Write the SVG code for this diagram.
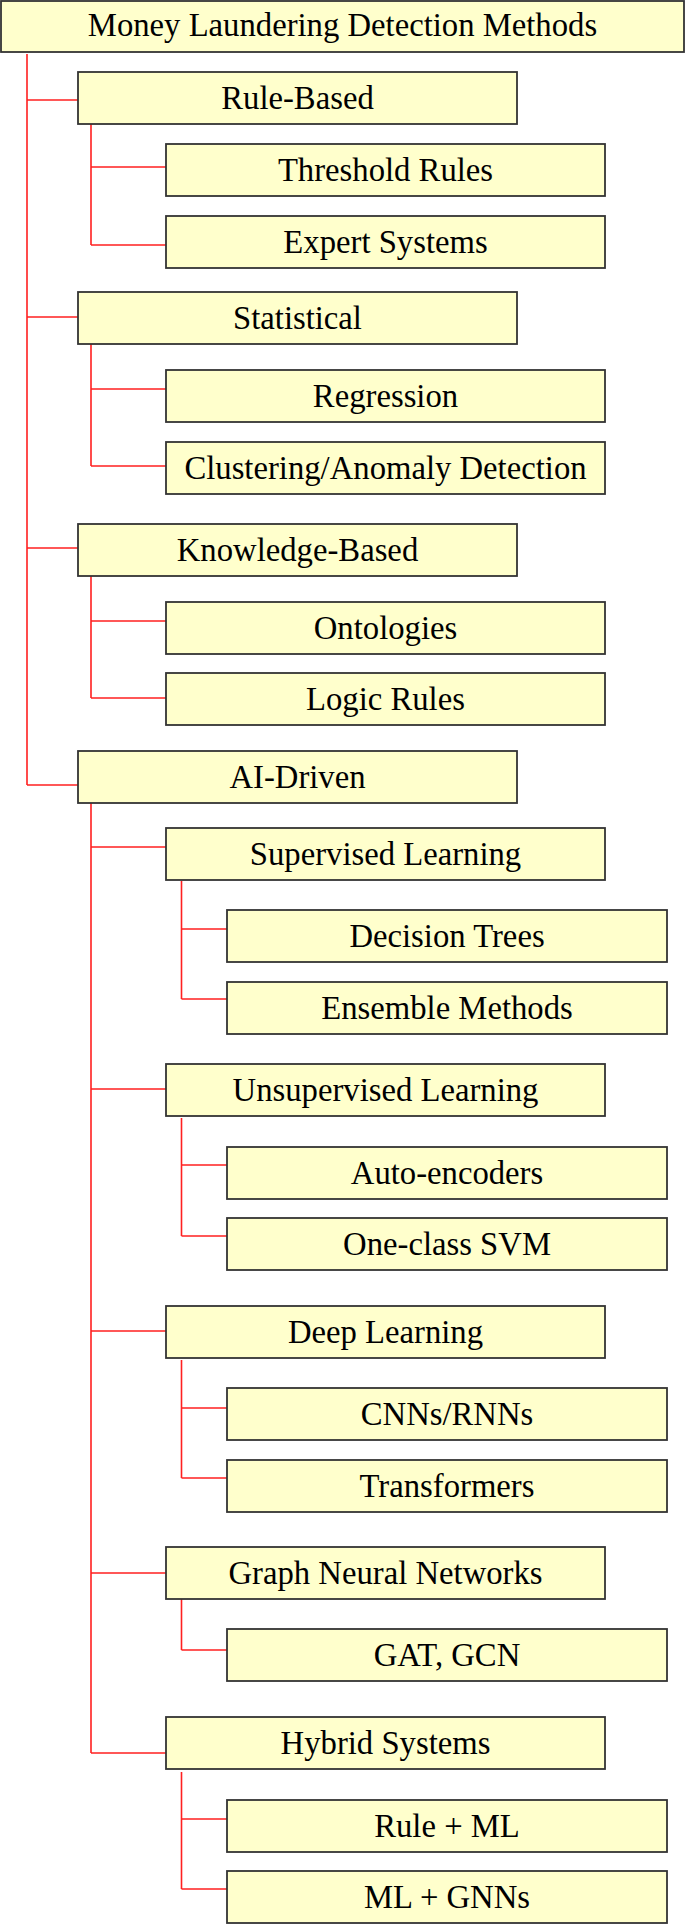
<svg xmlns="http://www.w3.org/2000/svg" width="685" height="1924" viewBox="0 0 685 1924">
<style>
.box{fill:#ffffcc;stroke:#333333;stroke-width:1.8}
.t{font-family:"Liberation Serif","Times New Roman",serif;font-size:32.7px;fill:#000;text-anchor:middle}
.c{stroke:#ff2020;stroke-width:1.6;fill:none}
</style>
<rect width="685" height="1924" fill="#ffffff"/>
<g id="connectors">
<path class="c" d="M27 54V785M27 100H78M27 317H78M27 548H78M27 785H78"/>
<path class="c" d="M91 124V245M91 167H166M91 245H166"/>
<path class="c" d="M91 344V466M91 389H166M91 466H166"/>
<path class="c" d="M91 576V698M91 621H166M91 698H166"/>
<path class="c" d="M91 803V1753M91 847H166M91 1089H166M91 1331H166M91 1573H166M91 1753H166"/>
<path class="c" d="M181.5 881V999M181.5 929H227M181.5 999H227"/>
<path class="c" d="M181.5 1118V1236M181.5 1165H227M181.5 1236H227"/>
<path class="c" d="M181.5 1360V1478M181.5 1408H227M181.5 1478H227"/>
<path class="c" d="M181.5 1597V1650M181.5 1650H227"/>
<path class="c" d="M181.5 1772V1889M181.5 1819H227M181.5 1889H227"/>
</g>
<g id="root"><rect class="box" x="1" y="1" width="683" height="51"/><text class="t" x="342.5" y="36">Money Laundering Detection Methods</text></g>
<g id="rule-based"><rect class="box" x="78" y="72" width="439" height="52"/><text class="t" x="297.5" y="109">Rule-Based</text></g>
<g id="threshold-rules"><rect class="box" x="166" y="144" width="439" height="52"/><text class="t" x="385.5" y="181">Threshold Rules</text></g>
<g id="expert-systems"><rect class="box" x="166" y="216" width="439" height="52"/><text class="t" x="385.5" y="253">Expert Systems</text></g>
<g id="statistical"><rect class="box" x="78" y="292" width="439" height="52"/><text class="t" x="297.5" y="329">Statistical</text></g>
<g id="regression"><rect class="box" x="166" y="370" width="439" height="52"/><text class="t" x="385.5" y="407">Regression</text></g>
<g id="clustering"><rect class="box" x="166" y="442" width="439" height="52"/><text class="t" x="385.5" y="479">Clustering/Anomaly Detection</text></g>
<g id="knowledge-based"><rect class="box" x="78" y="524" width="439" height="52"/><text class="t" x="297.5" y="561">Knowledge-Based</text></g>
<g id="ontologies"><rect class="box" x="166" y="602" width="439" height="52"/><text class="t" x="385.5" y="639">Ontologies</text></g>
<g id="logic-rules"><rect class="box" x="166" y="673" width="439" height="52"/><text class="t" x="385.5" y="710">Logic Rules</text></g>
<g id="ai-driven"><rect class="box" x="78" y="751" width="439" height="52"/><text class="t" x="297.5" y="788">AI-Driven</text></g>
<g id="supervised"><rect class="box" x="166" y="828" width="439" height="52"/><text class="t" x="385.5" y="865">Supervised Learning</text></g>
<g id="decision-trees"><rect class="box" x="227" y="910" width="440" height="52"/><text class="t" x="447" y="947">Decision Trees</text></g>
<g id="ensemble"><rect class="box" x="227" y="982" width="440" height="52"/><text class="t" x="447" y="1019">Ensemble Methods</text></g>
<g id="unsupervised"><rect class="box" x="166" y="1064" width="439" height="52"/><text class="t" x="385.5" y="1101">Unsupervised Learning</text></g>
<g id="auto-encoders"><rect class="box" x="227" y="1147" width="440" height="52"/><text class="t" x="447" y="1184">Auto-encoders</text></g>
<g id="one-class-svm"><rect class="box" x="227" y="1218" width="440" height="52"/><text class="t" x="447" y="1255">One-class SVM</text></g>
<g id="deep-learning"><rect class="box" x="166" y="1306" width="439" height="52"/><text class="t" x="385.5" y="1343">Deep Learning</text></g>
<g id="cnns-rnns"><rect class="box" x="227" y="1388" width="440" height="52"/><text class="t" x="447" y="1425">CNNs/RNNs</text></g>
<g id="transformers"><rect class="box" x="227" y="1460" width="440" height="52"/><text class="t" x="447" y="1497">Transformers</text></g>
<g id="gnn"><rect class="box" x="166" y="1547" width="439" height="52"/><text class="t" x="385.5" y="1584">Graph Neural Networks</text></g>
<g id="gat-gcn"><rect class="box" x="227" y="1629" width="440" height="52"/><text class="t" x="447" y="1666">GAT, GCN</text></g>
<g id="hybrid"><rect class="box" x="166" y="1717" width="439" height="52"/><text class="t" x="385.5" y="1754">Hybrid Systems</text></g>
<g id="rule-ml"><rect class="box" x="227" y="1800" width="440" height="52"/><text class="t" x="447" y="1837">Rule + ML</text></g>
<g id="ml-gnns"><rect class="box" x="227" y="1871" width="440" height="52"/><text class="t" x="447" y="1908">ML + GNNs</text></g>
</svg>
